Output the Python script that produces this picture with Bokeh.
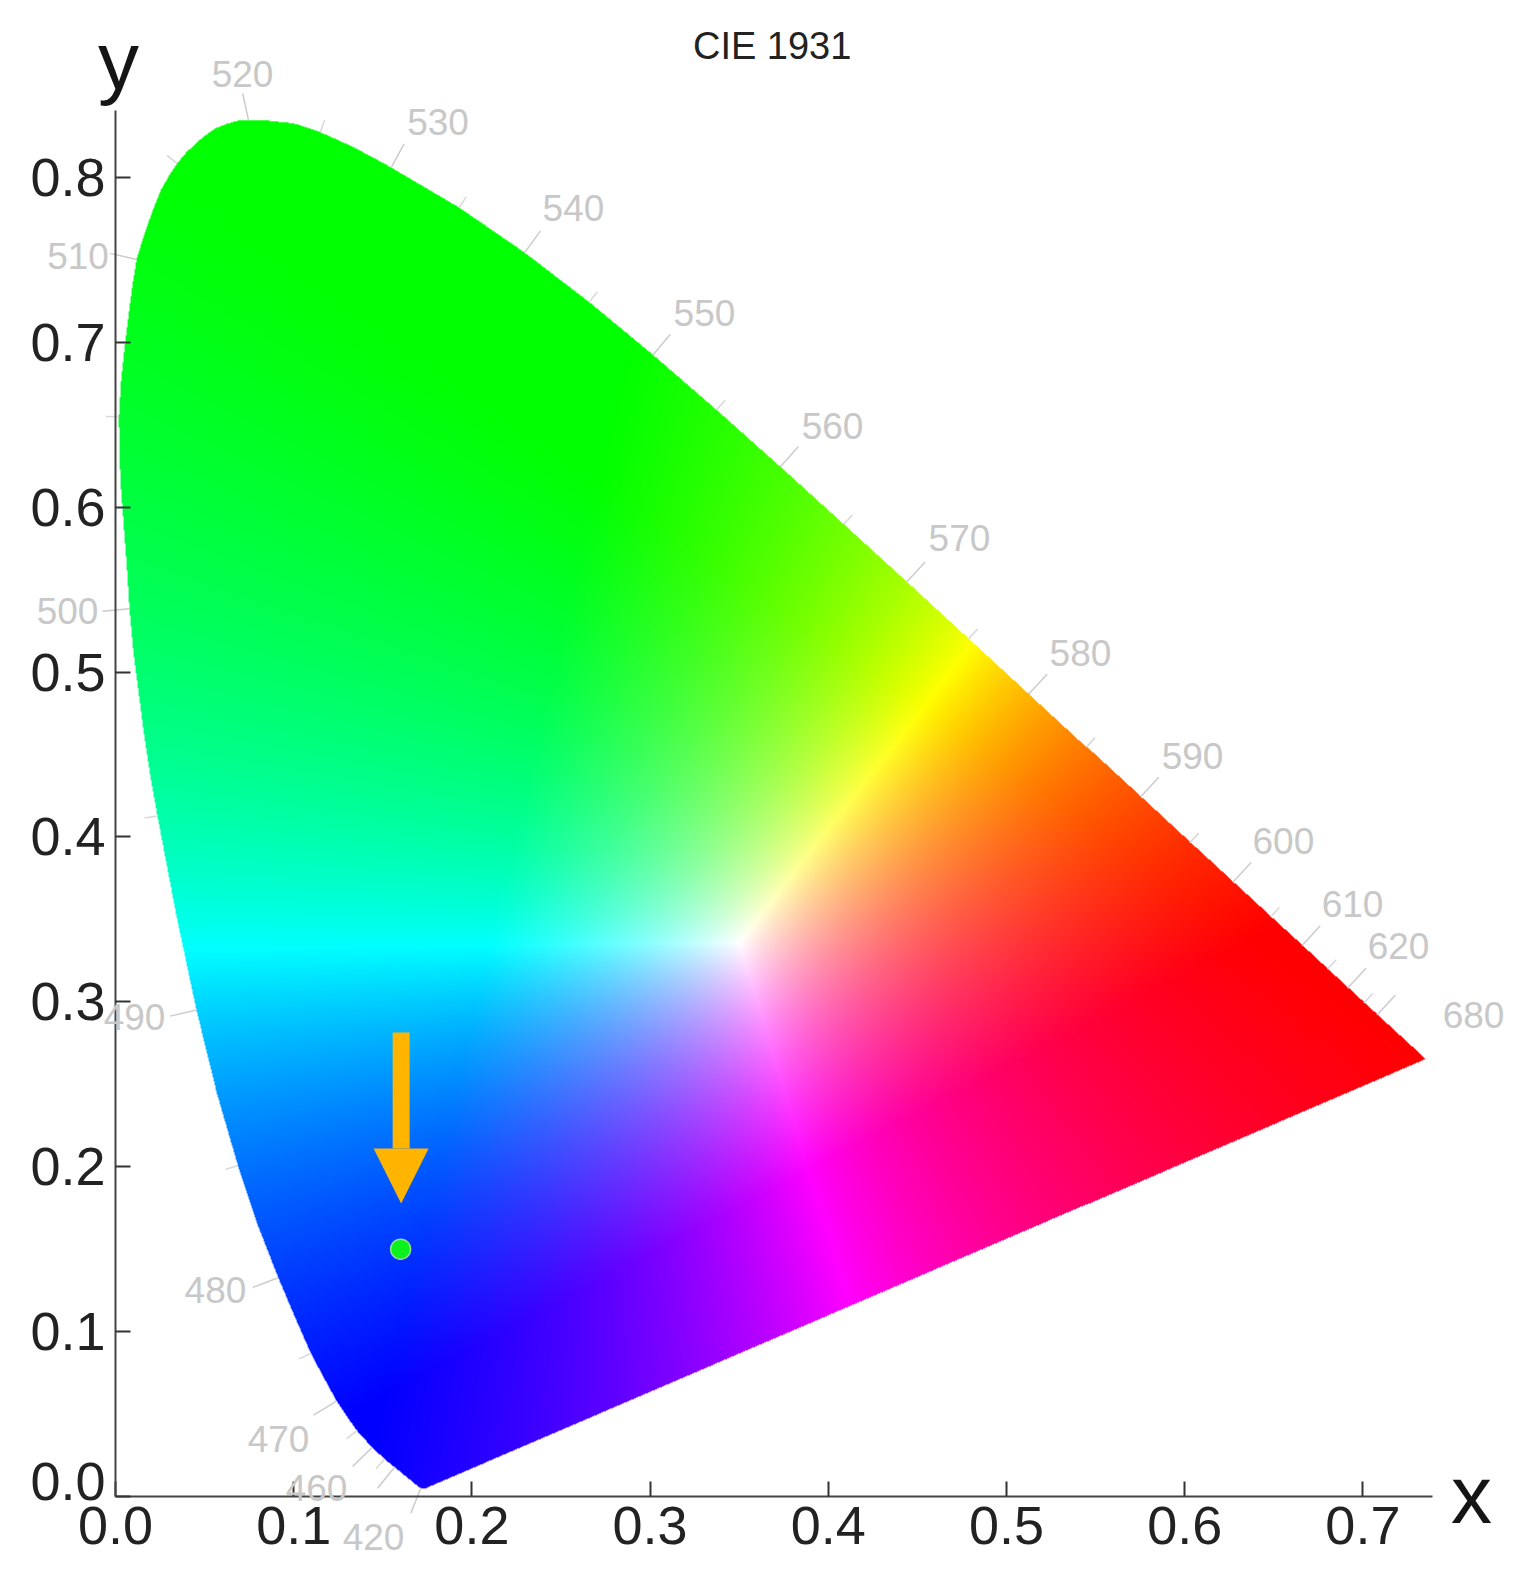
import numpy as np
from bokeh.core.properties import value
from bokeh.embed import file_html
from bokeh.resources import INLINE
from bokeh.plotting import figure
from bokeh.models import (Arrow, ColumnDataSource, FixedTicker, LabelSet, LinearAxis,
                          NormalHead, Range1d)

# spectral locus of the CIE 1931 diagram (nm, x, y)
wavelength = [380, 410, 420, 425, 430, 435, 440, 445, 450, 455, 460, 462.5, 465, 467.5, 470, 472.5,
              475, 477.5, 480, 482.5, 485, 487.5, 490, 492.5, 495, 496, 497, 498, 499, 500,
              501, 502, 503, 504, 505, 506, 507, 508, 509, 510, 511, 512, 513, 514, 515,
              516, 517, 518, 518.5, 519, 519.5, 520, 521, 522, 523, 524, 525, 526, 527, 528, 529, 530,
              535, 540, 545, 550, 555, 560, 565, 570, 575, 580, 585, 590, 595, 600, 605, 610,
              615, 620, 625, 630, 640, 650, 680]
locus_x = [.1741, .1726, .1714, .1703, .1689, .1669, .1644, .1611, .1566, .1510, .1440, .1400, .1355,
           .1302, .1241, .1175, .1096, .1010, .0913, .0800, .0687, .0570, .0454, .0340, .0235,
           .0195, .0160, .0130, .0101, .0078, .0063, .0045, .0028, .0021, .0019, .0030, .0049,
           .0070, .0093, .0118, .0160, .0209, .0253, .0300, .0346, .0397, .0449, .0505, .0561,
           .0625, .0690, .0746, .0802, .0870, .0935, .1000, .1150, .1228, .1307, .1387, .1467,
           .1547, .1929, .2296, .2658, .3016, .3373, .3731, .4087, .4441, .4788, .5125, .5448,
           .5752, .6029, .6270, .6482, .6658, .6801, .6915, .7006, .7079, .7190, .7260, .7347]
locus_y = [.0050, .0048, .0051, .0058, .0069, .0086, .0109, .0138, .0177, .0227, .0297, .0345, .0399,
           .0480, .0578, .0708, .0868, .1080, .1327, .1640, .2007, .2440, .2950, .3530, .4127,
           .4369, .4620, .4870, .5112, .5384, .5645, .5900, .6150, .6354, .6548, .6755, .6950,
           .7140, .7330, .7502, .7650, .7800, .7920, .8010, .8084, .8150, .8205, .8255, .8296,
           .8325, .8344, .8348, .8348, .8342, .8334, .8327, .8273, .8236, .8197, .8153, .8107,
           .8059, .7816, .7543, .7243, .6923, .6589, .6245, .5896, .5547, .5202, .4866, .4544,
           .4242, .3965, .3725, .3514, .3340, .3197, .3083, .2993, .2920, .2809, .2740, .2653]

major_ticks = [420, 450, 460, 470, 480, 490, 500, 510, 520, 530, 540, 550, 560, 570, 580, 590,
               600, 610, 620, 630, 680]
minor_ticks = [455, 465, 475, 485, 495, 505, 515, 525, 535, 545, 555, 565, 575, 585, 595, 605,
               615, 625]

wl_labels = ["520", "530", "540", "550", "560", "570", "580", "590", "600", "610", "620", "680",
             "510", "500", "490", "480", "470", "460", "420"]
wl_label_x = [.0713, .1810, .2570, .3305, .4024, .4736, .5415, .6044, .6554, .6942, .7200, .7621,
              -.0210, -.0269, .0107, .0561, .0915, .1128, .1448]
wl_label_y = [.8626, .8334, .7811, .7179, .6492, .5810, .5118, .4491, .3978, .3596, .3338, .2917,
              .7523, .5367, .2905, .1255, .0348, .0049, -.0243]

x_ticks = [0.0, 0.1, 0.2, 0.3, 0.4, 0.5, 0.6, 0.7]
y_ticks = [0.0, 0.1, 0.2, 0.3, 0.4, 0.5, 0.6, 0.7, 0.8]

point_x = [0.160]
point_y = [0.150]
arrow_x = 0.1603
arrow_y_start = 0.2814
arrow_y_end = 0.1777

# colour model of the diagram: primaries and white of the linear RGB space
primary_r = (0.64, 0.340)
primary_g = (0.27, 0.62)
primary_b = (0.15, 0.06)
white = (0.350, 0.336)
display_gamma = 1.0

PX_X = 1782.0
PX_Y = 1649.0
X0 = 115.0
Y0 = 1496.0
W, H = 1522, 1561


def xyz(c):
    return np.array([c[0], c[1], 1 - c[0] - c[1]])


M = np.column_stack([xyz(primary_r), xyz(primary_g), xyz(primary_b)])
S = np.linalg.solve(M, xyz(white))
Minv = np.linalg.inv(M * S)

x_end, y_end = 0.7400, 0.8400
nx, ny = int(x_end * PX_X), int(y_end * PX_Y)
gx = (np.arange(nx) + .5) / nx * x_end
gy = (np.arange(ny) + .5) / ny * y_end
XX, YY = np.meshgrid(gx, gy)
ZZ = 1 - XX - YY

rgb = np.stack([Minv[i, 0] * XX + Minv[i, 1] * YY + Minv[i, 2] * ZZ for i in range(3)], axis=-1)
rgb = np.clip(rgb, 0, None)
rgb = rgb / rgb.max(axis=-1, keepdims=True)
rgb = rgb ** (1 / display_gamma)

inside = np.zeros(XX.shape, dtype=bool)
px, py = np.array(locus_x), np.array(locus_y)
for i in range(len(px)):
    x1, y1 = px[i], py[i]
    x2, y2 = px[(i + 1) % len(px)], py[(i + 1) % len(px)]
    if y1 == y2:
        continue
    cond = (y1 > YY) != (y2 > YY)
    xc = x1 + (YY - y1) * (x2 - x1) / (y2 - y1)
    inside ^= cond & (XX < xc)

img = np.zeros((ny, nx, 4), dtype=np.uint8)
img[..., :3] = np.round(rgb * 255).astype(np.uint8)
img[..., 3] = inside * 255
img_u32 = img.view(dtype=np.uint32).reshape((ny, nx))

x_range = Range1d(-X0 / PX_X, (W - X0) / PX_X)
y_range = Range1d((Y0 - H) / PX_Y, Y0 / PX_Y)

p = figure(width=W, height=H, x_range=x_range, y_range=y_range, x_axis_type=None, y_axis_type=None,
           toolbar_location=None, output_backend="svg", min_border=0, outline_line_color=None,
           background_fill_color="white", border_fill_color="white")
p.grid.visible = False

p.image_rgba(image=[img_u32], x=0, y=0, dw=x_end, dh=y_end)


def axis_style(ax):
    ax.axis_line_color = "#444444"
    ax.axis_line_width = 2
    ax.major_tick_line_color = "#333333"
    ax.major_tick_line_width = 2
    ax.major_tick_in = 15
    ax.major_tick_out = 0
    ax.minor_tick_line_color = None
    ax.major_label_text_font = "Liberation Sans"
    ax.major_label_text_font_size = "54px"
    ax.major_label_text_color = "#222222"


xaxis = LinearAxis(fixed_location=0, ticker=FixedTicker(ticks=x_ticks), bounds=(0, 0.739))
yaxis = LinearAxis(fixed_location=0, ticker=FixedTicker(ticks=y_ticks), bounds=(0, 0.8405))
axis_style(xaxis)
axis_style(yaxis)
xaxis.major_label_standoff = 10
yaxis.major_label_standoff = 10
xaxis.major_label_overrides = {v: f"{v:.1f}" for v in x_ticks}
yaxis.major_label_overrides = {v: f"{v:.1f}" for v in y_ticks[1:]} | {0.0: ""}
p.add_layout(xaxis, "below")
p.add_layout(yaxis, "left")


def tick_segments(waves, length):
    xs, ys = [], []
    sx = np.array(locus_x) * PX_X
    sy = np.array(locus_y) * PX_Y
    wl = np.array(wavelength)
    wx, wy = white[0] * PX_X, white[1] * PX_Y
    for w in waves:
        i = wavelength.index(w)
        a = int(np.argmin(np.abs(wl - (w - 5))))
        b = int(np.argmin(np.abs(wl - (w + 5))))
        tx, ty = sx[b] - sx[a], sy[b] - sy[a]
        n = np.hypot(tx, ty)
        ux, uy = ty / n, -tx / n
        if ux * (sx[i] - wx) + uy * (sy[i] - wy) < 0:
            ux, uy = -ux, -uy
        xs.append([sx[i] / PX_X, (sx[i] + ux * length) / PX_X])
        ys.append([sy[i] / PX_Y, (sy[i] + uy * length) / PX_Y])
    return xs, ys


mx, my = tick_segments(major_ticks, 27)
p.multi_line(mx, my, line_color="#cccccc", line_width=1.5)
nx2, ny2 = tick_segments(minor_ticks, 13)
p.multi_line(nx2, ny2, line_color="#d8d8d8", line_width=1.5)

p.add_layout(Arrow(end=NormalHead(size=55, fill_color="#FFB400", line_color="#FFB400", line_width=0),
                   x_start=arrow_x, y_start=arrow_y_start, x_end=arrow_x, y_end=arrow_y_end,
                   line_color="#FFB400", line_width=17))

p.scatter(point_x, point_y, size=20, fill_color="#0CF01C", line_color="#8FE08F", line_width=1.5)

wl_src = ColumnDataSource(dict(x=wl_label_x, y=wl_label_y, t=wl_labels))
p.add_layout(LabelSet(x="x", y="y", text="t", source=wl_src, text_align="center",
                      text_baseline="middle", text_color="#c8c8c8",
                      text_font=value("Liberation Sans"), text_font_size="37px"))

zero_src = ColumnDataSource(dict(x=[-0.0056], y=[0.0090], t=["0.0"]))
p.add_layout(LabelSet(x="x", y="y", text="t", source=zero_src, text_align="right",
                      text_baseline="middle", text_color="#222222",
                      text_font=value("Liberation Sans"), text_font_size="54px"))

name_src = ColumnDataSource(dict(x=[0.0017, 0.761], y=[0.8538, -0.0158], t=["y", "x"]))
p.add_layout(LabelSet(x="x", y="y", text="t", source=name_src, text_align="center",
                      text_baseline="alphabetic", text_color="#151515",
                      text_font=value("Liberation Sans"), text_font_size="82px"))

title_src = ColumnDataSource(dict(x=[0.3685], y=[0.8795], t=["CIE 1931"]))
p.add_layout(LabelSet(x="x", y="y", text="t", source=title_src, text_align="center",
                      text_baseline="middle", text_color="#222222",
                      text_font=value("Liberation Sans"), text_font_size="38px"))

open("out.html", "w").write(file_html(p, INLINE))
